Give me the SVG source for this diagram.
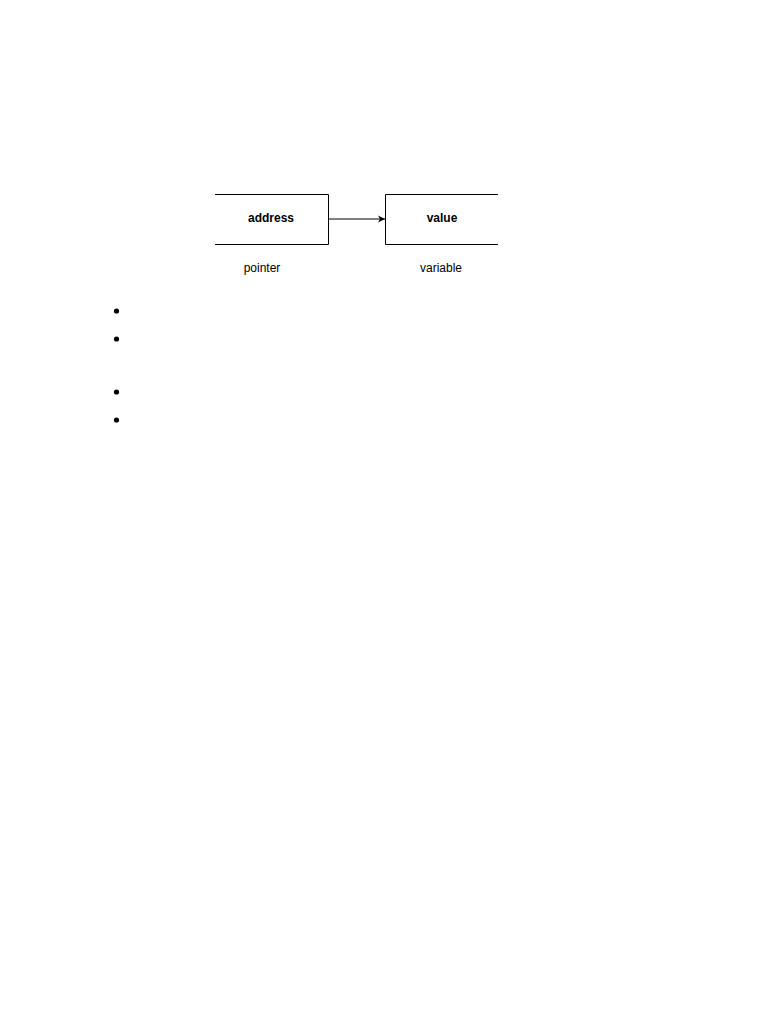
<svg xmlns="http://www.w3.org/2000/svg" width="768" height="1024" viewBox="0 0 768 1024">
<style>
.box{fill:none;stroke:#000;stroke-width:1}
.lbl{font-family:"Liberation Sans",Arial,sans-serif;font-size:12px;fill:#000;text-anchor:middle}
.b{font-weight:bold}
.bul{fill:#000}
</style>
<defs>
<marker id="arr" markerWidth="8" markerHeight="8" refX="7" refY="4" orient="auto" markerUnits="userSpaceOnUse">
<path d="M0,0.5 L7,4 L0,7.5 L2,4 Z" fill="#000"/>
</marker>
</defs>
<rect width="768" height="1024" fill="#fff"/>
<g id="node-address">
<path class="box" d="M215,194.5 H328.5 V244.5 H215"/>
<text class="lbl b" x="271" y="222">address</text>
</g>
<g id="node-value">
<path class="box" d="M498,194.5 H385.5 V244.5 H498"/>
<text class="lbl b" x="442" y="222">value</text>
</g>
<g id="label-pointer"><text class="lbl" x="262" y="272">pointer</text></g>
<g id="label-variable"><text class="lbl" x="441" y="272">variable</text></g>
<g id="connectors">
<line x1="328.5" y1="219" x2="385" y2="219" stroke="#000" stroke-width="1" marker-end="url(#arr)"/>
</g>
<g id="bullets">
<circle class="bul" cx="116.5" cy="311" r="2.6"/>
<circle class="bul" cx="116.5" cy="339" r="2.6"/>
<circle class="bul" cx="116.5" cy="392" r="2.6"/>
<circle class="bul" cx="116.5" cy="420" r="2.6"/>
</g>
</svg>
